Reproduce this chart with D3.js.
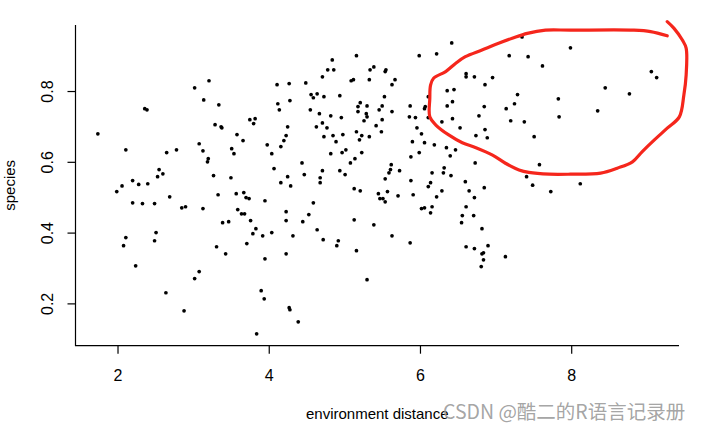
<!DOCTYPE html>
<html>
<head>
<meta charset="utf-8">
<script src="https://cdn.jsdelivr.net/npm/d3@7"></script>
<style>
  body { margin: 0; background: #fff; }
  text { font-family: "Liberation Sans", Arial, sans-serif; }
</style>
</head>
<body>
<div id="chart"></div>
<script>
// environment distance (x) / species (y)
var envDist = [
  3.21, 3.02, 3.14, 3.34, 2.36, 2.39, 3.29, 3.37, 3.38, 1.74,
  3.58, 3.08, 2.11, 3.13, 2.78, 2.65, 3.51, 3.54, 3.20, 3.19,
  2.55, 2.60, 2.53, 3.27, 3.50, 2.20, 2.28, 2.40, 2.06, 1.99,
  2.20, 2.33, 2.49, 2.69, 2.85, 2.90, 3.13, 3.33, 3.57, 3.59,
  3.39, 3.47, 2.11, 2.08, 2.51, 2.49, 3.31, 3.43, 2.24, 3.08,
  3.02, 2.64, 2.88, 4.84, 5.16, 4.78, 4.86, 5.34, 5.39, 5.54,
  5.55, 4.71, 5.09, 5.12, 5.33, 5.67, 5.63, 4.11, 4.27, 4.49,
  4.56, 4.59, 4.64, 4.73, 4.94, 5.53, 4.12, 4.28, 4.14, 4.55,
  5.21, 5.18, 5.30, 5.50, 5.18, 5.46, 5.63, 4.67, 4.82, 4.96,
  5.29, 5.30, 5.26, 5.50, 5.42, 5.49, 3.75, 3.82, 3.80, 4.71,
  4.63, 4.77, 4.25, 4.23, 4.20, 4.16, 3.66, 3.98, 4.04, 4.73,
  4.85, 4.89, 4.98, 5.16, 5.23, 5.33, 5.20, 4.82, 4.97, 5.02,
  5.23, 5.08, 5.14, 4.44, 4.07, 4.25, 4.47, 4.71, 4.68, 4.68,
  4.16, 4.94, 5.01, 5.62, 5.61, 5.59, 5.73, 5.54, 4.29, 3.67,
  3.70, 3.74, 3.95, 3.64, 3.68, 3.76, 3.83, 3.79, 3.92, 4.04,
  3.71, 4.23, 4.23, 4.45, 4.53, 4.59, 4.64, 4.32, 4.72, 4.90,
  4.92, 4.23, 3.95, 5.13, 5.21, 5.13, 5.16, 5.45, 5.47, 5.51,
  5.54, 5.57, 5.71, 5.39, 5.63, 5.30, 3.90, 3.94, 4.27, 4.28,
  4.39, 3.84, 6.42, 5.99, 6.22, 7.35, 7.18, 7.43, 7.62, 7.99,
  6.61, 6.61, 6.72, 6.96, 6.86, 6.36, 6.45, 6.11, 7.29, 5.87,
  6.07, 6.06, 6.36, 6.43, 6.85, 7.25, 7.14, 7.83, 5.86, 5.94,
  6.11, 6.29, 6.43, 6.78, 7.20, 7.38, 7.84, 5.96, 6.02, 6.53,
  6.86, 6.74, 6.89, 7.51, 5.90, 6.06, 6.19, 6.35, 6.47, 5.99,
  5.88, 6.40, 6.73, 7.58, 6.32, 6.16, 6.31, 6.41, 7.41, 5.88,
  6.14, 6.60, 7.49, 6.11, 5.91, 6.29, 6.22, 6.02, 6.06, 6.16,
  6.14, 6.65, 6.85, 6.72, 6.61, 6.56, 6.71, 6.55, 6.82, 5.87,
  6.61, 6.72, 6.90, 6.82, 6.84, 6.84, 6.81, 7.13, 7.73, 9.06,
  9.13, 8.45, 8.77, 8.35, 8.12
];
var species = [
  0.829, 0.809, 0.775, 0.761, 0.750, 0.747, 0.705, 0.699, 0.696, 0.679,
  0.677, 0.651, 0.634, 0.631, 0.634, 0.626, 0.637, 0.623, 0.609, 0.600,
  0.578, 0.566, 0.558, 0.561, 0.555, 0.547, 0.536, 0.538, 0.532, 0.516,
  0.484, 0.482, 0.482, 0.501, 0.470, 0.473, 0.468, 0.507, 0.510, 0.465,
  0.428, 0.431, 0.386, 0.363, 0.400, 0.377, 0.360, 0.340, 0.306, 0.290,
  0.270, 0.230, 0.179, 0.888, 0.900, 0.860, 0.860, 0.860, 0.868, 0.855,
  0.860, 0.840, 0.829, 0.832, 0.832, 0.832, 0.818, 0.818, 0.821, 0.823,
  0.790, 0.781, 0.792, 0.784, 0.787, 0.784, 0.764, 0.773, 0.747, 0.747,
  0.767, 0.756, 0.758, 0.758, 0.742, 0.747, 0.742, 0.736, 0.730, 0.725,
  0.736, 0.727, 0.716, 0.719, 0.702, 0.685, 0.719, 0.722, 0.708, 0.710,
  0.699, 0.696, 0.699, 0.674, 0.660, 0.643, 0.660, 0.648, 0.623, 0.671,
  0.674, 0.657, 0.677, 0.685, 0.674, 0.671, 0.662, 0.623, 0.626, 0.634,
  0.626, 0.597, 0.609, 0.597, 0.581, 0.558, 0.564, 0.575, 0.555, 0.541,
  0.541, 0.575, 0.564, 0.592, 0.578, 0.569, 0.575, 0.552, 0.532, 0.513,
  0.499, 0.496, 0.490, 0.453, 0.453, 0.434, 0.411, 0.397, 0.391, 0.400,
  0.369, 0.459, 0.434, 0.431, 0.451, 0.484, 0.408, 0.391, 0.380, 0.363,
  0.377, 0.340, 0.326, 0.524, 0.518, 0.436, 0.349, 0.510, 0.496, 0.496,
  0.487, 0.516, 0.504, 0.422, 0.391, 0.267, 0.236, 0.213, 0.188, 0.182,
  0.148, 0.114, 0.936, 0.900, 0.905, 0.953, 0.900, 0.897, 0.871, 0.922,
  0.849, 0.840, 0.840, 0.838, 0.818, 0.801, 0.804, 0.784, 0.790, 0.758,
  0.756, 0.750, 0.758, 0.770, 0.756, 0.764, 0.750, 0.778, 0.727, 0.725,
  0.725, 0.713, 0.722, 0.730, 0.716, 0.713, 0.727, 0.696, 0.679, 0.696,
  0.691, 0.674, 0.668, 0.671, 0.657, 0.654, 0.648, 0.640, 0.634, 0.626,
  0.614, 0.617, 0.597, 0.592, 0.583, 0.569, 0.569, 0.561, 0.558, 0.547,
  0.541, 0.544, 0.534, 0.530, 0.507, 0.518, 0.501, 0.468, 0.470, 0.473,
  0.456, 0.518, 0.527, 0.499, 0.473, 0.448, 0.448, 0.428, 0.411, 0.371,
  0.360, 0.355, 0.363, 0.340, 0.343, 0.323, 0.304, 0.332, 0.516, 0.855,
  0.838, 0.809, 0.792, 0.744, 0.538
];
var xTicks = [2, 4, 6, 8];
var yTicks = [0.2, 0.4, 0.6, 0.8];
var xLabel = "environment distance";
var yLabel = "species";
var watermark = "CSDN @酷二的R语言记录册";

// hand-drawn red loop, in data units
var loopX = [9.27, 9.05, 8.83, 7.99, 7.66, 7.42, 7.22, 7.04, 6.82, 6.60,
  6.47, 6.34, 6.18, 6.14, 6.13, 6.13, 6.21, 6.38, 6.56, 6.74,
  6.96, 7.13, 7.31, 7.44, 7.71, 7.99, 8.39, 8.61, 8.81, 8.94,
  9.10, 9.27, 9.43, 9.49, 9.52, 9.52, 9.47, 9.36, 9.27];
var loopY = [0.956, 0.968, 0.972, 0.972, 0.972, 0.963, 0.949, 0.935, 0.916, 0.897,
  0.878, 0.855, 0.836, 0.817, 0.779, 0.727, 0.704, 0.676, 0.654, 0.640,
  0.619, 0.596, 0.577, 0.570, 0.565, 0.565, 0.568, 0.582, 0.600, 0.629,
  0.662, 0.695, 0.727, 0.789, 0.845, 0.921, 0.944, 0.977, 0.996];

var data = envDist.map(function (d, i) { return { x: d, y: species[i] }; });

var W = 701, H = 431;
var plot = { left: 75.5, right: 679, top: 25, bottom: 345.7 };

// R style: pad the data range by 4% on each side
function padded(ext) {
  var p = (ext[1] - ext[0]) * 0.04;
  return [ext[0] - p, ext[1] + p];
}

var x = d3.scaleLinear()
  .domain(padded(d3.extent(envDist)))
  .range([plot.left, plot.right]);
var y = d3.scaleLinear()
  .domain(padded(d3.extent(species)))
  .range([plot.bottom, plot.top]);

var svg = d3.select("#chart").append("svg")
  .attr("width", W)
  .attr("height", H);

// L-shaped box
svg.append("path")
  .attr("d", "M" + plot.left + "," + plot.top + "V" + plot.bottom + "H" + plot.right)
  .attr("fill", "none")
  .attr("stroke", "#000")
  .attr("stroke-width", 1.2);

var xAxis = svg.append("g")
  .attr("transform", "translate(0," + plot.bottom + ")")
  .call(d3.axisBottom(x).tickValues(xTicks).tickFormat(d3.format("d"))
    .tickSize(8).tickPadding(16));
xAxis.select(".domain").remove();
xAxis.selectAll("line").attr("stroke", "#000").attr("stroke-width", 1.2);
xAxis.selectAll("text")
  .attr("fill", "#000")
  .style("font-size", "16px")
  .style("font-family", "'Liberation Sans', Arial, sans-serif");

var yAxis = svg.append("g")
  .attr("transform", "translate(" + plot.left + ",0)")
  .call(d3.axisLeft(y).tickValues(yTicks).tickFormat(d3.format(".1f")).tickSize(8));
yAxis.select(".domain").remove();
yAxis.selectAll("line").attr("stroke", "#000").attr("stroke-width", 1.2);
yAxis.selectAll("text")
  .attr("x", 0)
  .attr("dy", null)
  .attr("fill", "#000")
  .attr("text-anchor", "middle")
  .attr("transform", "translate(-23,0) rotate(-90)")
  .style("font-size", "16px")
  .style("font-family", "'Liberation Sans', Arial, sans-serif");

// axis titles
svg.append("text")
  .attr("x", (plot.left + plot.right) / 2)
  .attr("y", 419)
  .attr("text-anchor", "middle")
  .style("font-size", "15px")
  .text(xLabel);

svg.append("text")
  .attr("transform", "translate(15," + ((plot.top + plot.bottom) / 2) + ") rotate(-90)")
  .attr("text-anchor", "middle")
  .style("font-size", "15px")
  .text(yLabel);

// points (pch = 20)
svg.append("g")
  .selectAll("circle")
  .data(data)
  .enter()
  .append("circle")
  .attr("cx", function (d) { return x(d.x); })
  .attr("cy", function (d) { return y(d.y); })
  .attr("r", 1.85)
  .attr("fill", "#000");

// red annotation loop
var loop = loopX.map(function (d, i) { return [d, loopY[i]]; });
svg.append("path")
  .datum(loop)
  .attr("d", d3.line()
    .x(function (d) { return x(d[0]); })
    .y(function (d) { return y(d[1]); })
    .curve(d3.curveCatmullRom))
  .attr("fill", "none")
  .attr("stroke", "#f5261c")
  .attr("stroke-width", 3.2)
  .attr("stroke-linecap", "round")
  .attr("stroke-linejoin", "round");

// watermark
svg.append("text")
  .attr("x", 443)
  .attr("y", 419)
  .attr("fill", "#9a9a9a")
  .attr("fill-opacity", 0.9)
  .style("font-family", "'Noto Sans CJK SC', 'Noto Sans', sans-serif")
  .style("font-size", "19.5px")
  .text(watermark);
</script>
</body>
</html>
